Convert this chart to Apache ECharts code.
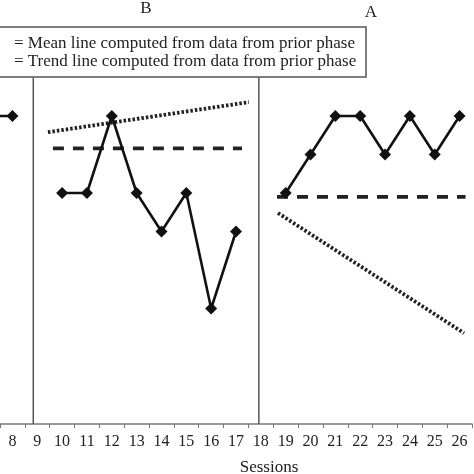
<!DOCTYPE html>
<html><head><meta charset="utf-8">
<script src="https://cdn.jsdelivr.net/npm/echarts@6/dist/echarts.min.js"></script>
<style>html,body{margin:0;padding:0;background:#fff}#c{width:474px;height:474px}</style>
</head><body><div id="c"></div>
<script>
// ---- data ----
const sessions = ['8','9','10','11','12','13','14','15','16','17','18','19','20','21','22','23','24','25','26'];
const baselineSessions = [7, 8];
const baselineValues = [8, 8];
const phaseBSessions = [10, 11, 12, 13, 14, 15, 16, 17];
const phaseBValues = [6, 6, 8, 6, 5, 6, 3, 5];
const phaseA2Sessions = [19, 20, 21, 22, 23, 24, 25, 26];
const phaseA2Values = [6, 7, 8, 8, 7, 8, 7, 8];
const phaseChanges = [8.84, 17.92];
const phaseLineTop = 9.0;
const meanB = {x: [9.63, 17.24], y: [7.16, 7.16]};
const trendB = {x: [9.43, 17.52], y: [7.58, 8.36]};
const meanA2 = {x: [18.65, 26.24], y: [5.9, 5.9]};
const trendA2 = {x: [18.69, 26.18], y: [5.48, 2.36]};
const phaseLabels = ['B', 'A'];
const legendTexts = ['= Mean line computed from data from prior phase', '= Trend line computed from data from prior phase'];
const xTitle = 'Sessions';

const pairs = (xs, ys) => xs.map((x, i) => [x, ys[i]]);
const serif = 'Liberation Serif';
const dataLine = (xs, ys) => ({
  type: 'line', xAxisIndex: 1, data: pairs(xs, ys), symbol: 'diamond', symbolSize: 12,
  lineStyle: {color: '#111', width: 2.6}, itemStyle: {color: '#111'}, animation: false, z: 5
});
const refLine = (o, dash, w) => ({
  type: 'line', xAxisIndex: 1, data: pairs(o.x, o.y), symbol: 'none',
  lineStyle: {color: '#222', width: w, type: dash}, animation: false, z: 3
});

const series = [
  dataLine(baselineSessions, baselineValues),
  dataLine(phaseBSessions, phaseBValues),
  dataLine(phaseA2Sessions, phaseA2Values),
  refLine(meanB, [11, 9], 3.8),
  refLine(meanA2, [11, 9], 3.8),
  refLine(trendB, [2.5, 2], 3.8),
  refLine(trendA2, [2.5, 2], 3.8)
];
phaseChanges.forEach(p => series.push({
  type: 'line', xAxisIndex: 1, data: [[p, 0], [p, phaseLineTop]], symbol: 'none',
  lineStyle: {color: '#555', width: 1.5}, animation: false, z: 2
}));

const chart = echarts.init(document.getElementById('c'));
chart.setOption({
  backgroundColor: '#fff',
  animation: false,
  grid: {left: 0, right: 2, top: 0.5, bottom: 50, outerBoundsMode: 'none', containLabel: false},
  xAxis: [
    {type: 'category', data: sessions, boundaryGap: true,
     axisLine: {lineStyle: {color: '#777', width: 1.5}},
     axisTick: {show: true, length: 4, lineStyle: {color: '#777'}},
     axisLabel: {color: '#222', fontFamily: serif, fontSize: 16, margin: 10},
     name: xTitle, nameLocation: 'middle', nameGap: 35,
     nameTextStyle: {color: '#222', fontFamily: serif, fontSize: 17, padding: [0, 0, 0, 66]}},
    {type: 'value', min: 7.5, max: 26.5, show: false}
  ],
  yAxis: {type: 'value', min: 0, max: 11, show: false},
  series: series,
  graphic: [
    {type: 'rect', shape: {x: -5, y: 27, width: 371, height: 50},
     style: {fill: '#fff', stroke: '#555', lineWidth: 1.5}, z: 10},
    {type: 'text', x: 14, y: 43.5, style: {text: legendTexts[0], font: '17px "Liberation Serif"', fill: '#222', textVerticalAlign: 'middle'}, z: 11},
    {type: 'text', x: 14, y: 61.5, style: {text: legendTexts[1], font: '17px "Liberation Serif"', fill: '#222', textVerticalAlign: 'middle'}, z: 11},
    {type: 'text', x: 146, y: 9, style: {text: phaseLabels[0], font: '17px "Liberation Serif"', fill: '#222', textAlign: 'center', textVerticalAlign: 'middle'}, z: 11},
    {type: 'text', x: 371, y: 12.5, style: {text: phaseLabels[1], font: '17px "Liberation Serif"', fill: '#222', textAlign: 'center', textVerticalAlign: 'middle'}, z: 11}
  ]
});
</script></body></html>
